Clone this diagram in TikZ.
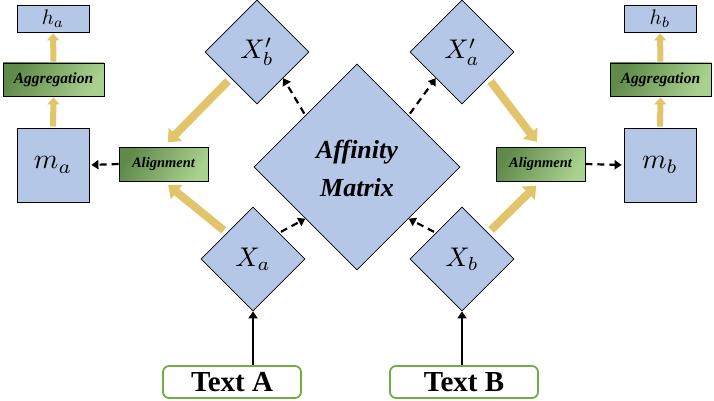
\documentclass[tikz,border=0pt]{standalone}
\usepackage{fontspec}
\setmainfont{Liberation Serif}
\usetikzlibrary{shapes.geometric,arrows.meta}
\definecolor{boxblue}{HTML}{B4C7E7}
\definecolor{dgreen}{HTML}{4E7D35}
\definecolor{lgreen}{HTML}{A9D18E}
\definecolor{gold}{HTML}{E2C56A}
\definecolor{tgreen}{HTML}{70AD47}
\newcommand{\mth}[2]{\scalebox{#1}{$#2$}}
\tikzset{
  bluebox/.style={draw=black,fill=boxblue,line width=0.8pt,inner sep=0pt},
  dia/.style={draw=black,fill=boxblue,line width=0.8pt,diamond,aspect=1,inner sep=0pt,minimum size=#1},
  greenbox/.style={draw=black,line width=0.8pt,left color=dgreen!90,right color=lgreen,shading angle=60,inner sep=0pt},
  textbox/.style={draw=tgreen,line width=1.8pt,rounded corners=6pt,minimum width=138pt,minimum height=32pt,font=\bfseries\fontsize{29}{32}\selectfont},
  goldarrow/.style={draw=gold,line width=8pt,-{Triangle[length=11pt,width=18pt]}},
  smallgold/.style={draw=gold,line width=6pt,-{Triangle[length=7pt,width=12pt]}},
  dasharrow/.style={draw=black,line width=2.2pt,dash pattern=on 7pt off 5pt,-{Triangle[length=7pt,width=9pt]}},
  solidarrow/.style={draw=black,line width=2.2pt,-{Triangle[length=7pt,width=9pt]}}
}
\begin{document}
\begin{tikzpicture}[x=1pt,y=-1pt]
\useasboundingbox (0,0) rectangle (714,401);
% left column
\node[bluebox,minimum width=72pt,minimum height=27pt] (ha) at (53,18.5) {\mth{2.1}{h_a}};
\node[greenbox,minimum width=101pt,minimum height=33pt,font=\bfseries\itshape\fontsize{15.5}{18}\selectfont] (agga) at (53.5,79.5) {Aggregation};
\node[bluebox,minimum width=72pt,minimum height=74pt] (ma) at (53,165) {\mth{2.8}{m_a}};
\node[greenbox,minimum width=89pt,minimum height=34pt,font=\bfseries\itshape\fontsize{14.5}{17}\selectfont] (ala) at (163.5,164) {Alignment};
% right column
\node[bluebox,minimum width=72pt,minimum height=27pt] (hb) at (660,18.5) {\mth{2.1}{h_b}};
\node[greenbox,minimum width=101pt,minimum height=33pt,font=\bfseries\itshape\fontsize{15.5}{18}\selectfont] (aggb) at (660.5,79.5) {Aggregation};
\node[bluebox,minimum width=72pt,minimum height=74pt] (mb) at (660,165) {\mth{2.8}{m_b}};
\node[greenbox,minimum width=89pt,minimum height=34pt,font=\bfseries\itshape\fontsize{14.5}{17}\selectfont] (alb) at (540.5,164) {Alignment};
% diamonds
\node[dia=206pt] (mat) at (357,167) {};
\node[font=\bfseries\itshape\fontsize{26}{30}\selectfont,align=center] (matt) at (357,168) {Affinity\\[8pt]Matrix};
\node[dia=104pt] (xbp) at (257,52) {\mth{2.7}{X_b'}};
\node[dia=104pt] (xap) at (462,52) {\mth{2.7}{X_a'}};
\node[dia=104pt] (xa) at (253,259) {\mth{2.7}{X_a}};
\node[dia=104pt] (xb) at (462,259) {\mth{2.7}{X_b}};
% text boxes
\node[textbox] (ta) at (232,382) {Text A};
\node[textbox,minimum width=148pt] (tb) at (464,382) {Text B};
% arrows
\draw[solidarrow] (xa.south |- ta.north) -- (xa.south);
\draw[solidarrow] (xb.south |- tb.north) -- (xb.south);
\draw[dasharrow,shorten <=2pt] (xa.north east) -- (mat.south west);
\draw[dasharrow,shorten <=2pt] (xb.north west) -- (mat.south east);
\draw[dasharrow,shorten <=2pt] (mat.north west) -- (xbp.south east);
\draw[dasharrow,shorten <=2pt] (mat.north east) -- (xap.south west);
\draw[dasharrow,shorten >=2pt] (ala.west) -- (ma.east);
\draw[dasharrow,shorten >=2pt] (alb.east) -- (mb.west);
\draw[goldarrow,shorten <=4pt,shorten >=6pt] (xbp.south west) -- (ala.north);
\draw[goldarrow,shorten <=4pt,shorten >=6pt] (xa.north west) -- (ala.south);
\draw[goldarrow,shorten <=4pt,shorten >=6pt] (xap.south east) -- (alb.north);
\draw[goldarrow,shorten <=4pt,shorten >=6pt] (xb.north east) -- (alb.south);
\draw[smallgold,shorten <=1pt,shorten >=1pt] (ma.north) -- (agga.south);
\draw[smallgold,shorten <=1pt,shorten >=1pt] (agga.north) -- (ha.south);
\draw[smallgold,shorten <=1pt,shorten >=1pt] (mb.north) -- (aggb.south);
\draw[smallgold,shorten <=1pt,shorten >=1pt] (aggb.north) -- (hb.south);
\end{tikzpicture}
\end{document}
